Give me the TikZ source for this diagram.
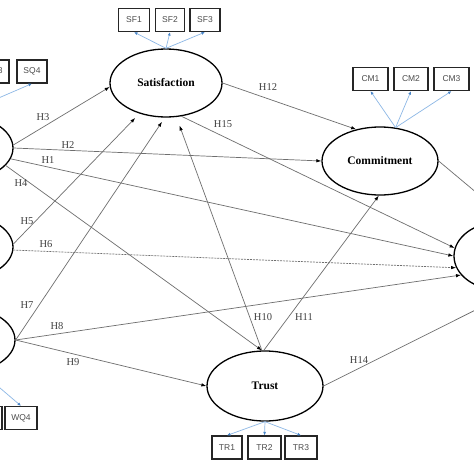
\documentclass[tikz,border=0pt]{standalone}
\usepackage{fontspec}
\setmainfont{Liberation Serif}
\newfontfamily\boxfont{Liberation Sans}
\usetikzlibrary{arrows.meta,shapes.geometric}
\definecolor{lnc}{HTML}{6E6E6E}
\definecolor{ind}{HTML}{8DB8E6}
\definecolor{indtip}{HTML}{4A86C8}
\begin{document}
\begin{tikzpicture}[x=1pt,y=-1pt,
 latent/.style={ellipse,draw=black,line width=1.3pt,fill=white,minimum width=116pt,minimum height=68pt,inner sep=0pt,font=\fontsize{11.5}{12}\selectfont\bfseries},
 mbox/.style={rectangle,draw=black!85,line width=1.2pt,fill=white,minimum height=23pt,inner sep=0pt,font=\boxfont\fontsize{8.5}{9}\selectfont,text=black!70},
 hyp/.style={draw=lnc,line width=0.7pt,-{Latex[length=5pt,width=3.5pt,black]}},
 load/.style={draw=ind,line width=0.7pt,-{Latex[length=3.5pt,width=3pt,indtip]}},
 hlab/.style={font=\fontsize{10.5}{11}\selectfont,text=black!75,inner sep=0pt},
]
\clip (0,0) rectangle (474,474);
\fill[white] (0,0) rectangle (474,474);

% latent variables
\node[latent,minimum width=112pt] (sat) at (166,83) {Satisfaction};
\node[latent] (com) at (380,161) {Commitment};
\node[latent,minimum height=70pt] (tru) at (265,386) {Trust};
\node[latent,minimum width=92pt] (loy) at (500,256) {};
\node[latent] (sq) at (-45,148) {};
\node[latent] (sv) at (-45,247) {};
\node[latent] (wq) at (-43,340) {};

% indicators
\node[mbox,minimum width=31pt] (sf1) at (134,20) {SF1};
\node[mbox,minimum width=29pt] (sf2) at (170,20) {SF2};
\node[mbox,minimum width=30pt] (sf3) at (205,20) {SF3};
\node[mbox,minimum width=35pt] (cm1) at (370.5,79) {CM1};
\node[mbox,minimum width=34pt] (cm2) at (411,79) {CM2};
\node[mbox,minimum width=35pt] (cm3) at (451.5,79) {CM3};
\node[mbox,minimum width=30pt] (tr1) at (227,447.5) {TR1};
\node[mbox,minimum width=33pt] (tr2) at (264.5,447.5) {TR2};
\node[mbox,minimum width=32pt] (tr3) at (301,447.5) {TR3};
\node[mbox,minimum width=30pt] (sq3) at (-6,71.5) {SQ3};
\node[mbox,minimum width=30pt] (sq4) at (32,71.5) {SQ4};
\node[mbox,minimum width=32pt] (wq3) at (-14,418) {WQ3};
\node[mbox,minimum width=32pt] (wq4) at (21,418) {WQ4};

% loadings
\draw[load] (sat.north) -- (sf1.south);
\draw[load] (sat.north) -- (sf2.south);
\draw[load] (sat.north) -- (sf3.south);
\draw[load] (com.65) -- (cm1.south);
\draw[load] (com.65) -- (cm2.south);
\draw[load] (com.65) -- (cm3.south);
\draw[load] (tru.south) -- (tr1.north);
\draw[load] (tru.south) -- (tr2.north);
\draw[load] (tru.south) -- (tr3.north);
\draw[load] (sq.78) -- (sq4.south);
\draw[load] (wq.-53) -- (wq4.north);

% hypotheses
\draw[hyp] (sq.3) -- (sat.184);
\draw[hyp] (sq.0) -- (com.180);
\draw[hyp] (sq.-11) -- (loy.180);
\draw[hyp] (sq.-19) -- (tru.95);
\draw[hyp,shorten >=6pt] (sv.3) -- (sat.229);
\draw[hyp,dash pattern=on 2pt off 1pt] (sv.-3) -- (loy.195);
\draw[hyp,shorten >=5pt] (wq.0) -- (sat.268);
\draw[hyp] (wq.0) -- (loy.206);
\draw[hyp] (wq.0) -- (tru.180);
\draw[hyp,shorten >=9pt] (tru.95) -- (sat.287);
\draw[hyp] (tru.92) -- (com.268);
\draw[hyp] (sat.0) -- (com.127);
\draw[hyp] (com.0) -- (loy.70);
\draw[hyp] (tru.0) -- (loy.-45);
\draw[hyp] (sat.-65) -- (loy.170);

% labels
\node[hlab] (h1) at (48,160) {H1};
\node[hlab] (h2) at (68,145) {H2};
\node[hlab] (h3) at (43,117) {H3};
\node[hlab] (h4) at (21,183) {H4};
\node[hlab] (h5) at (27,221) {H5};
\node[hlab] (h6) at (46,244) {H6};
\node[hlab] (h7) at (27,305) {H7};
\node[hlab] (h8) at (57,326) {H8};
\node[hlab] (h9) at (73,362) {H9};
\node[hlab] (h10) at (263,317) {H10};
\node[hlab] (h11) at (304,317) {H11};
\node[hlab] (h12) at (268,87) {H12};
\node[hlab] (h14) at (359,360) {H14};
\node[hlab] (h15) at (223,124) {H15};
\end{tikzpicture}
\end{document}
